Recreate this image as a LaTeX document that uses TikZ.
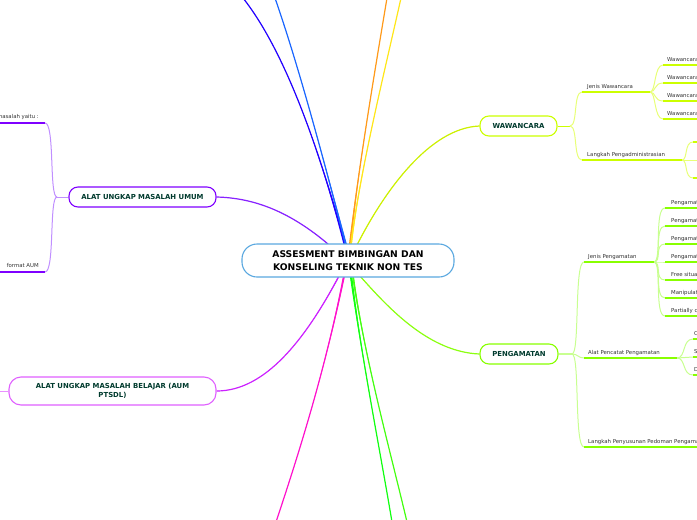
\documentclass[tikz,border=0pt]{standalone}
\usepackage{fontspec}
\setmainfont{DejaVu Sans}
\usetikzlibrary{backgrounds}
\definecolor{txtdark}{HTML}{003B2E}
\definecolor{txtgrey}{HTML}{333333}
\definecolor{rootc}{HTML}{5AA8E0}
\definecolor{wawa}{HTML}{CCFF00}
\definecolor{wawal}{HTML}{E8FF77}
\definecolor{peng}{HTML}{88FF00}
\definecolor{pengl}{HTML}{C8FF90}
\definecolor{alat}{HTML}{7F00FF}
\definecolor{alatl}{HTML}{C08FFF}
\definecolor{bel}{HTML}{E060FF}
\definecolor{tra}{HTML}{2200FF}
\definecolor{trb}{HTML}{1A66FF}
\definecolor{trc}{HTML}{FF9A1A}
\definecolor{trd}{HTML}{FFE61A}
\definecolor{tre}{HTML}{CCF000}
\definecolor{trf}{HTML}{8CFF11}
\definecolor{trg}{HTML}{8822FF}
\definecolor{trh}{HTML}{CC22FF}
\definecolor{tri}{HTML}{FF11CC}
\definecolor{trj}{HTML}{11FF11}
\definecolor{trk}{HTML}{44FF11}
\tikzset{
  x=1pt,y=-1pt,
  topic/.style={draw,line width=1.1pt,fill=white,rounded corners=9pt,align=center,font=\bfseries\fontsize{6.9}{9}\selectfont,text=txtdark,inner sep=0pt},
  rootbox/.style={draw=rootc,line width=1.1pt,fill=white,rounded corners=15pt,align=center,font=\bfseries\fontsize{9.2}{12.5}\selectfont,text=black,inner sep=0pt},
  lab/.style={font=\fontsize{5.4}{6.5}\selectfont,text=txtgrey,inner sep=0pt},
  ul/.style={line width=1.3pt},
  twig/.style={line width=1pt}
}
% tapered trunk: start coord, c1, c2, end coord, colour, half-width
\newcommand{\taper}[6]{%
  \fill[#5] ([xshift=#6]#1) .. controls (#2) and (#3) .. (#4) .. controls (#3) and (#2) .. ([xshift=-#6]#1) -- cycle;
  \draw[line width=1.2pt,#5] (#1) .. controls (#2) and (#3) .. (#4);
}
% sub-branch: name, x1, x2, y, text, text x, colour
\newcommand{\sub}[7]{%
  \coordinate (#1-l) at (#2,#4);
  \coordinate (#1-r) at (#3,#4);
  \node[lab,anchor=base west] (#1) at (#6,#4-4) {#5};
  \draw[ul,#7] (#1-l) -- (#1-r);
}
\begin{document}
\begin{tikzpicture}
\useasboundingbox (0,0) rectangle (697,520);
\clip (0,0) rectangle (697,520);

\node[rootbox,minimum width=212pt,minimum height=33pt] (main) at (348,260.5) {ASSESMENT BIMBINGAN DAN\\KONSELING TEKNIK NON TES};
\node[topic,draw=wawa,minimum width=77pt,minimum height=20pt] (wawancara) at (518.5,126) {WAWANCARA};
\node[topic,draw=peng,minimum width=78pt,minimum height=20pt] (pengamatan) at (519,354) {PENGAMATAN};
\node[topic,draw=alat,minimum width=147pt,minimum height=20pt] (umum) at (142.5,197) {ALAT UNGKAP MASALAH UMUM};
\node[topic,draw=bel,minimum width=207pt,minimum height=28pt,rounded corners=12pt] (belajar) at (112.5,391) {ALAT UNGKAP MASALAH BELAJAR (AUM\\PTSDL)};

% free ends
\coordinate (t1) at (243,-2);
\coordinate (t2) at (275,-2);
\coordinate (t3) at (387,-2);
\coordinate (t4) at (401,-2);
\coordinate (b1) at (276,522);
\coordinate (b2) at (392,522);
\coordinate (b3) at (407,522);
% ports on the central node
\coordinate (pt1) at (345,245);
\coordinate (pt2) at (346,245);
\coordinate (pt3) at (350,245);
\coordinate (pt4) at (351,245);
\coordinate (pw) at (357,245);
\coordinate (pu) at (328,244);
\coordinate (pp) at (360,276);
\coordinate (pb) at (339,276);
\coordinate (pb1) at (344,276);
\coordinate (pb2) at (351,276);
\coordinate (pb3) at (353,276);

% sub-branches: WAWANCARA
\sub{jw}{582}{650}{92}{Jenis Wawancara}{587}{wawa}
\sub{w1}{663}{700}{65}{Wawancara}{667}{wawa}
\sub{w2}{663}{700}{83}{Wawancara}{667}{wawa}
\sub{w3}{663}{700}{101}{Wawancara}{667}{wawa}
\sub{w4}{663}{700}{119}{Wawancara}{667}{wawa}
\sub{lp}{582}{682}{160}{Langkah Pengadministrasian}{587}{wawa}
\coordinate (lp1) at (693,142);
\coordinate (lp2) at (697,160);
\coordinate (lp3) at (693,178);
\draw[ul,wawa] (lp1) -- ++(6,0);
\draw[ul,wawa] (lp3) -- ++(6,0);

% sub-branches: PENGAMATAN
\sub{jp}{584}{654}{262}{Jenis Pengamatan}{588}{peng}
\sub{p1}{665}{700}{208}{Pengamatan}{671}{peng}
\sub{p2}{665}{700}{226}{Pengamatan}{671}{peng}
\sub{p3}{665}{700}{244}{Pengamatan}{671}{peng}
\sub{p4}{665}{700}{262}{Pengamatan}{671}{peng}
\sub{p5}{665}{700}{280}{Free situation}{671}{peng}
\sub{p6}{665}{700}{298}{Manipulated situation}{671}{peng}
\sub{p7}{665}{700}{316}{Partially controlled}{671}{peng}
\sub{ap}{584}{677}{358}{Alat Pencatat Pengamatan}{588}{peng}
\sub{c1}{693}{700}{339}{Catatan}{694}{peng}
\sub{c2}{693}{700}{357}{Skala}{694}{peng}
\sub{c3}{693}{700}{375}{Daftar}{694}{peng}
\sub{ly}{584}{700}{447}{Langkah Penyusunan Pedoman Pengamatan}{588}{peng}

% sub-branches: UMUM
\coordinate (m1-r) at (45,123);
\coordinate (m1-l) at (-2,123);
\coordinate (m2-r) at (45,272);
\coordinate (m2-l) at (-2,272);
\node[lab,anchor=base east] (m1) at (39,118) {masalah yaitu :};
\node[lab,anchor=base east] (m2) at (39,267) {format AUM};
\draw[ul,alat] (m1-l) -- (m1-r);
\draw[ul,alat] (m2-l) -- (m2-r);

\begin{pgfonlayer}{background}
  \coordinate (wfork) at (570,126);
  \coordinate (pfork) at (572,354);
  \coordinate (ufork) at (57,197);
  \draw[line width=1pt,wawa] (wawancara.east) -- (wfork);
  \draw[line width=1.5pt,pengl] (pengamatan.east) -- (pfork);
  \draw[line width=1pt,alatl] (umum.west) -- (ufork);
  % forks
  \draw[twig,wawal] (wfork) .. controls (578,126) and (573,92) .. (jw-l);
  \draw[twig,wawal] (wfork) .. controls (578,126) and (573,160) .. (lp-l);
  \foreach \n in {w1,w2,w3,w4} {
    \draw[twig,wawal] (jw-r) .. controls (656,92) and ([xshift=-9]\n-l) .. (\n-l);
  }
  \draw[twig,wawal] (lp-r) .. controls (688,160) and (684,142) .. (lp1);
  \draw[twig,wawal] (lp-r) -- (lp2);
  \draw[twig,wawal] (lp-r) .. controls (688,160) and (684,178) .. (lp3);
  \draw[twig,pengl] (pfork) .. controls (580,354) and (574,262) .. (jp-l);
  \draw[twig,pengl] (pfork) .. controls (578,354) and (578,358) .. (ap-l);
  \draw[twig,pengl] (pfork) .. controls (580,354) and (574,447) .. (ly-l);
  \foreach \n in {p1,p2,p3,p4,p5,p6,p7} {
    \draw[twig,pengl] (jp-r) .. controls (662,262) and ([xshift=-11]\n-l) .. (\n-l);
  }
  \draw[twig,pengl] (ap-r) .. controls (686,358) and (682,339) .. (c1-l);
  \draw[twig,pengl] (ap-r) -- (c2-l);
  \draw[twig,pengl] (ap-r) .. controls (686,358) and (682,375) .. (c3-l);
  \draw[twig,alatl] (ufork) .. controls (49,197) and (55,123) .. (m1-r);
  \draw[twig,alatl] (ufork) .. controls (49,197) and (55,272) .. (m2-r);
  \coordinate (bstub) at (-2,391);
  \draw[line width=.8pt,bel!70] (belajar.west) -- (bstub);

  % trunks
  \taper{pt1}{322,160}{288,55}{t1}{tra}{1.3}
  \taper{pt2}{325,165}{300,70}{t2}{trb}{1.1}
  \taper{pt3}{358,170}{375,70}{t3}{trc}{1.1}
  \taper{pt4}{360,170}{385,70}{t4}{trd}{.9}
  \taper{pw}{385,190}{430,128}{wawancara.west}{tre}{.4}
  \taper{pp}{390,310}{430,352}{pengamatan.west}{trf}{.4}
  \taper{pu}{290,212}{255,198}{umum.east}{trg}{.4}
  \taper{pb}{305,340}{265,391}{belajar.east}{trh}{.6}
  \taper{pb1}{325,370}{300,450}{b1}{tri}{1}
  \taper{pb2}{362,360}{380,450}{b2}{trj}{1.2}
  \taper{pb3}{365,360}{390,450}{b3}{trk}{.9}
\end{pgfonlayer}
\end{tikzpicture}
\end{document}
